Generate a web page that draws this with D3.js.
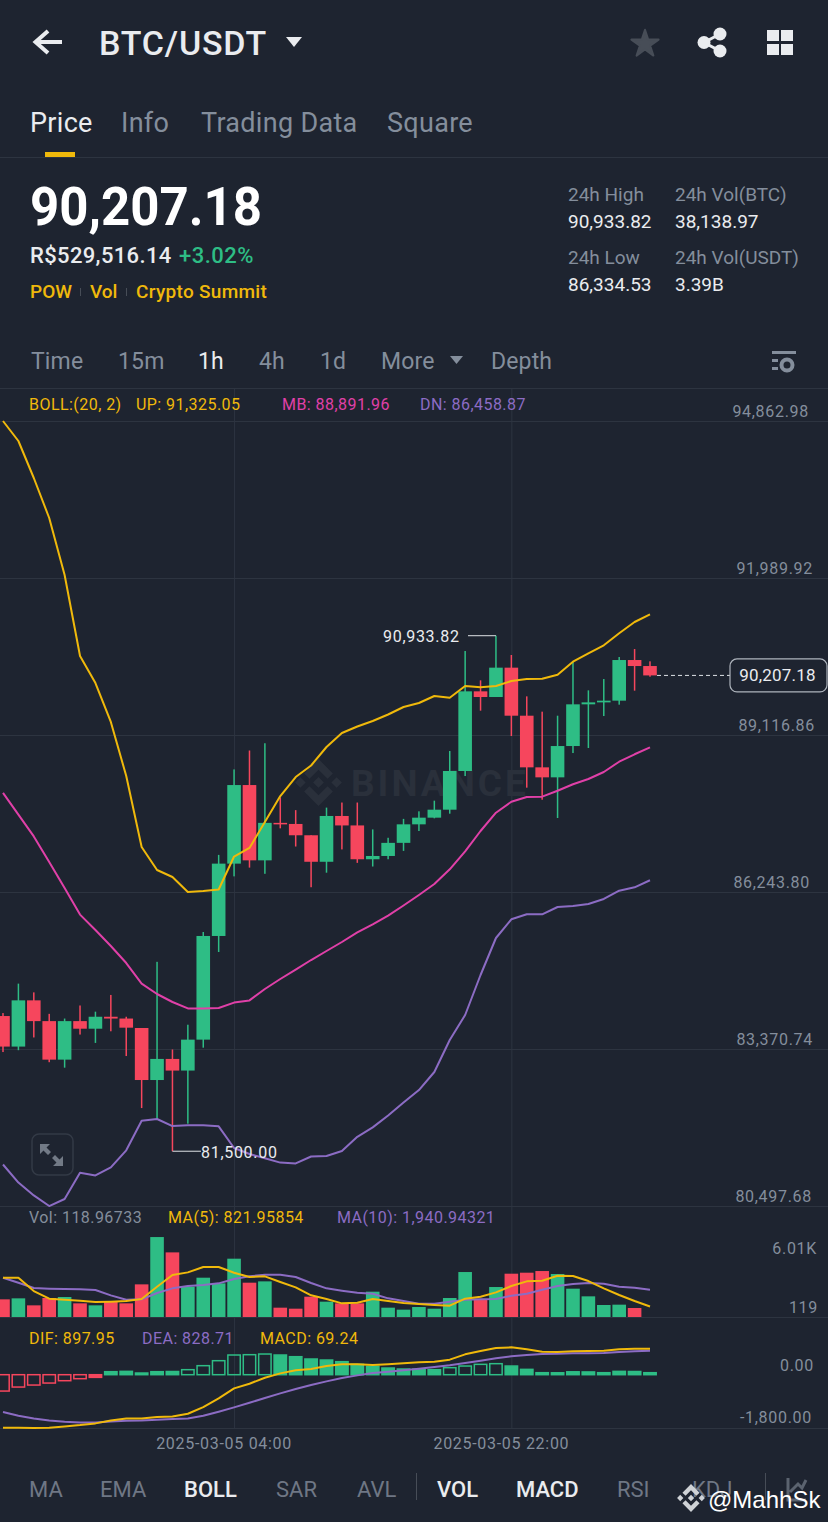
<!DOCTYPE html>
<html>
<head>
<meta charset="utf-8">
<script src="https://cdn.jsdelivr.net/npm/d3@7"></script>
<style>
  html, body { margin: 0; padding: 0; background: #1e2430; }
  svg { display: block; font-family: Roboto, sans-serif; }
  .domain { display: none; }
</style>
</head>
<body>
<svg id="chart" width="828" height="1522"></svg>
<script>
// candles, one per hour
const opens = [83974,83415,84261,83881,83176,83881,83742,83961,83928,83755,82803,83189,82976,83542,85439,86763,88201,86823,87509,87489,87282,86797,87635,87462,86843,86903,87143,87482,87604,87750,88458,89916,89812,90349,89470,88525,88342,88915,89678,89714,89745,90489,90379]
const highs = [84028,84567,84407,84014,83928,84167,84054,84360,83961,83755,84966,83362,83815,85512,86923,88487,88833,88966,87975,87742,87282,87788,87881,87881,87389,87236,87582,87720,87915,88824,90654,90117,90933.82,90581,89824,89544,89470,90465,89934,90141,90544,90690,90465]
const lows = [83315,83349,83582,83129,83029,83635,83482,83695,83242,82290,82077,81500,82004,83395,85146,86530,86690,86577,87409,87076,86331,86597,87023,86777,86710,86843,86996,87360,87592,87677,88366,89562,89812,89098,88153,87933,87598,88787,88879,89464,89672,89928,90184]
const closes = [83415,84261,83881,83176,83881,83742,83961,83928,83761,82803,83189,82976,83542,85439,86763,88201,86823,87509,87489,87282,86797,87635,87462,86843,86903,87143,87482,87604,87750,88458,89916,89812,90349,89470,88525,88342,88915,89678,89714,89745,90489,90379,90207.18]

// bollinger bands
const bollUp = [94863,94497,93820,93088,92045,90562,90068,89355,88367,87067,86646,86518,86244,86262,86289,86893,87049,87525,88000,88348,88559,88897,89153,89272,89373,89492,89629,89702,89831,89799,90014,89990,90014,90105,90142,90147,90220,90458,90612,90758,90978,91185,91325.05]
const bollMb = [88059,87660,87261,86793,86317,85830,85548,85255,84944,84566,84377,84231,84114,84114,84121,84220,84260,84469,84652,84825,84999,85164,85329,85504,85651,85810,85997,86189,86390,86659,86989,87360,87695,87896,87982,87988,88097,88215,88312,88440,88628,88764,88891.96]
const bollDn = [81257,80926,80691,80497,80626,81105,81057,81204,81517,82057,82090,81961,81976,81976,81956,81559,81449,81370,81292,81277,81403,81412,81504,81764,81936,82155,82390,82620,82950,83535,83993,84725,85402,85744,85836,85836,85969,85987,86024,86116,86267,86330,86458.87]

// volume pane
const volume = [1301,1368,899,1390,1457,1033,899,1122,1033,2304,5471,4445,2148,2750,2371,4022,2416,2505,743,676,1479,1145,1033,1033,1814,743,610,788,676,1390,3129,1256,2126,3018,3085,3196,2996,2015,1502,922,944,721,118.97]
const volMa5 = [2750,2750,1858,1346,1279,1212,1122,1145,1189,1323,2148,2929,3107,3464,3464,3085,2795,2840,2461,2104,1569,1323,1033,1078,1323,1189,1056,989,922,877,1346,1479,1769,2193,2505,2550,2884,2862,2527,2037,1591,1189,821.96]
const volMa10 = [2750,2416,2059,2015,1992,1970,1925,1569,1279,1301,1725,2037,2193,2260,2371,2661,2840,2951,2951,2795,2394,2037,1881,1747,1680,1368,1189,1011,1011,1145,1279,1301,1323,1546,1680,1948,2193,2327,2394,2349,2148,2081,1940.94]

// macd pane
const macdHist = [-564,-426,-357,-288,-207,-138,-92,104,115,58,104,110,173,311,483,679,690,713,679,621,541,506,449,357,288,230,196,190,173,242,299,357,380,299,184,69,66,100,95,69,115,110,69.24]
const dif = [-1829,-1829,-1840,-1829,-1783,-1737,-1679,-1576,-1507,-1507,-1461,-1438,-1346,-1116,-817,-472,-311,-104,46,150,196,299,357,357,334,357,391,426,449,518,702,817,920,943,874,794,782,805,817,828,874,897,897.95]
const dea = [-1288,-1415,-1507,-1576,-1622,-1645,-1645,-1610,-1587,-1576,-1553,-1530,-1507,-1415,-1277,-1127,-966,-805,-644,-495,-357,-230,-115,-23,58,104,150,207,265,322,403,483,564,633,679,713,725,736,736,748,782,805,828.71]

const priceTicks = [94862.98,91989.92,89116.86,86243.80,83370.74,80497.68]
const macdTicks = [0,-1800]
const timeTicks = [15,33]
const timeLabels = ['2025-03-05 04:00','2025-03-05 22:00']
const lastPrice = 90207.18

const W = 828
const BG = '#1e2430', GRID = '#2d3440', GREY = '#848e9c', DIM = '#6f7785', WHITE = '#eaecef'
const GREEN = '#2ebd85', RED = '#f6465d', YELLOW = '#f0b90b', PINK = '#e040a8', PURPLE = '#8c6cc4'
const fmt = d => d3.format(',.2f')(d).replace('\u2212', '-')
const TICK_SPACING = .7, LEGEND_SPACING = .45
// the tick labels are not flush in the app, their right edges differ a little
const priceLabelRight = [809,813,815,810,813,812]
const macdLabelRight = [814,812]

const svg = d3.select('#chart')
svg.append('rect').attr('width', W).attr('height', 1522).attr('fill', BG)

const txt = (x, y, s, fill, size, opts = {}) => svg.append('text')
  .attr('x', x).attr('y', y).attr('fill', fill).attr('font-size', size)
  .attr('font-weight', opts.weight || 400).attr('text-anchor', opts.anchor || 'start')
  .attr('font-family', opts.family || null)
  .attr('letter-spacing', opts.ls !== undefined ? opts.ls : (size === 16 ? LEGEND_SPACING : null)).text(s)

// exchange logo, drawn around its own centre
const logoPaths = [
  'M38.73 53.2l24.59-24.58 24.6 24.6 14.3-14.31L63.32 0 24.43 38.89z',
  'M0 63.31l14.3-14.31 14.31 14.31-14.31 14.3z',
  'M38.73 73.41l24.59 24.59 24.6-24.6 14.31 14.29-38.9 38.91-38.91-38.88-.02-.02z',
  'M98.01 63.31l14.3-14.31 14.31 14.31-14.31 14.3z',
  'M77.83 63.3L63.32 48.78 52.59 59.51l-1.24 1.23-2.54 2.54 14.51 14.5 14.51-14.47z'
]
const logoMark = (cx, cy, k, fill) => svg.append('path').attr('d', logoPaths.join('')).attr('fill', fill)
  .attr('transform', `translate(${cx},${cy}) scale(${k}) translate(-63.31,-63.31)`)

const x = d3.scaleLinear().domain([0, 42]).range([3, 650])
const yPrice = d3.scaleLinear().domain([94862.98, 80497.68]).range([421, 1206])
const yVol = d3.scaleLinear().domain([119, 6010]).range([1317, 1229])
const yMacd = d3.scaleLinear().domain([0, -1800]).range([1374.7, 1426.9])
const idx = d3.range(opens.length)

// header
svg.append('path').attr('d', 'M62 42H36M48 31L35.5 42L48 53').attr('fill', 'none')
  .attr('stroke', WHITE).attr('stroke-width', 4)
txt(99, 55, 'BTC/USDT', WHITE, 34, { weight: 500, ls: .8 })
svg.append('path').attr('d', 'M286 37H302L294 47Z').attr('fill', WHITE)
svg.append('path').attr('fill', '#474d57').attr('stroke', '#474d57').attr('stroke-width', 2).attr('stroke-linejoin', 'round')
  .attr('d', d3.symbol(d3.symbolStar, 230)()).attr('transform', 'translate(645,44)')
const share = svg.append('g').attr('fill', WHITE)
share.append('path').attr('d', 'M720 34L704 42.5L720 51').attr('fill', 'none').attr('stroke', WHITE).attr('stroke-width', 3)
;[[720,34,6.5],[704,42.5,6.5],[720,51,6.5]].forEach(c => share.append('circle').attr('cx', c[0]).attr('cy', c[1]).attr('r', c[2]))
;[[767,30],[781,30],[767,44],[781,44]].forEach(c => svg.append('rect').attr('x', c[0]).attr('y', c[1]).attr('width', 12).attr('height', 11).attr('fill', WHITE))

const tabNames = ['Price','Info','Trading Data','Square']
const tabX = [30,121,201,387]
tabNames.forEach((t, i) => txt(tabX[i], 132, t, i ? GREY : WHITE, 27, { ls: .3 }))
svg.append('rect').attr('x', 45).attr('y', 152).attr('width', 30).attr('height', 5).attr('fill', YELLOW)
svg.append('rect').attr('x', 0).attr('y', 157).attr('width', W).attr('height', 1).attr('fill', GRID)

txt(30, 225, '90,207.18', '#fff', 54, { weight: 700 }).attr('textLength', 232).attr('lengthAdjust', 'spacingAndGlyphs')
txt(30, 263, 'R$529,516.14', WHITE, 22, { ls: .35, weight: 500 })
txt(179, 263, '+3.02%', GREEN, 22, { ls: .5, weight: 500 })
txt(30, 298, 'POW', YELLOW, 19, { weight: 500 })
txt(90, 298, 'Vol', YELLOW, 19, { weight: 500 })
txt(136, 298, 'Crypto Summit', YELLOW, 19, { weight: 500, ls: .3 })
svg.append('rect').attr('x', 80).attr('y', 288).attr('width', 1).attr('height', 8).attr('fill', '#474d57')
svg.append('rect').attr('x', 126).attr('y', 288).attr('width', 1).attr('height', 8).attr('fill', '#474d57')

txt(568, 201, '24h High', GREY, 19)
txt(568, 228, '90,933.82', WHITE, 19)
txt(568, 264, '24h Low', GREY, 19)
txt(568, 291, '86,334.53', WHITE, 19)
txt(675, 201, '24h Vol(BTC)', GREY, 19)
txt(675, 228, '38,138.97', WHITE, 19)
txt(675, 264, '24h Vol(USDT)', GREY, 19)
txt(675, 291, '3.39B', WHITE, 19)

const periods = ['Time','15m','1h','4h','1d','More','Depth']
const periodX = [31,118,198,259,320,381,491]
periods.forEach((t, i) => txt(periodX[i], 369, t, t === '1h' ? WHITE : GREY, 23, { ls: .15 }))
svg.append('path').attr('d', 'M450 356H463L456.5 364Z').attr('fill', GREY)
svg.append('path').attr('fill', GREY)
  .attr('d', 'M772 351H796V354H772ZM772 359H778V362H772ZM772 367H778V370H772Z')
svg.append('circle').attr('cx', 787).attr('cy', 365).attr('r', 5.5).attr('fill', 'none').attr('stroke', GREY).attr('stroke-width', 4)

// price pane
const xGrid = svg.append('g').attr('transform', 'translate(0,388)')
  .call(d3.axisBottom(x).tickValues(timeTicks).tickSize(1040).tickFormat((d, i) => timeLabels[i]))
xGrid.selectAll('line').attr('stroke', GRID)
xGrid.selectAll('text').attr('fill', GREY).attr('font-size', 16).attr('font-family', 'Roboto')
  .attr('letter-spacing', TICK_SPACING).attr('y', 1061).attr('dy', 0).attr('dx', -10.5)

svg.append('rect').attr('x', 0).attr('y', 388).attr('width', W).attr('height', 1).attr('fill', GRID)
svg.append('rect').attr('x', 0).attr('y', 1317).attr('width', W).attr('height', 1).attr('fill', GRID)
svg.append('rect').attr('x', 0).attr('y', 1428).attr('width', W).attr('height', 1).attr('fill', GRID)

const priceAxis = svg.append('g')
  .call(d3.axisRight(yPrice).tickValues(priceTicks).tickSize(W).tickFormat(fmt))
priceAxis.selectAll('line').attr('stroke', GRID)
priceAxis.selectAll('text').attr('x', (d, i) => priceLabelRight[i]).attr('dy', -5).attr('text-anchor', 'end')
  .attr('letter-spacing', TICK_SPACING).attr('fill', GREY).attr('font-size', 16).attr('font-family', 'Roboto')

// watermark
logoMark(318.5, 782.5, .37, '#2a303b')
svg.append('text').attr('x', 351).attr('y', 796).attr('fill', '#2a303b').attr('font-size', 37).attr('font-weight', 700).attr('letter-spacing', 3).text('BINANCE')

const up = i => closes[i] >= opens[i]
const candles = svg.append('g').selectAll('g').data(idx).join('g')
  .attr('fill', i => up(i) ? GREEN : RED)
candles.append('rect').attr('x', i => x(i) - .75).attr('width', 1.5)
  .attr('y', i => yPrice(highs[i])).attr('height', i => yPrice(lows[i]) - yPrice(highs[i]))
candles.append('rect').attr('x', i => x(i) - 6.8).attr('width', 13.6)
  .attr('y', i => yPrice(Math.max(opens[i], closes[i])))
  .attr('height', i => Math.max(1.5, Math.abs(yPrice(opens[i]) - yPrice(closes[i]))))

const drawLine = (values, scale, color, width) => svg.append('path').datum(values)
  .attr('fill', 'none').attr('stroke', color).attr('stroke-width', width || 2).attr('stroke-linejoin', 'round')
  .attr('d', d3.line().x((d, i) => x(i)).y(d => scale(d)))

drawLine(bollUp, yPrice, YELLOW)
drawLine(bollMb, yPrice, PINK)
drawLine(bollDn, yPrice, PURPLE)

// high, low and last price markers
const maxI = highs.indexOf(d3.max(highs)), minI = lows.indexOf(d3.min(lows))
svg.append('path').attr('fill', 'none').attr('stroke', '#dfe2e6').attr('stroke-width', 1)
  .attr('d', `M${x(maxI)} ${yPrice(highs[maxI])}H468M${x(minI)} ${yPrice(lows[minI])}H201`)
txt(383, 642, fmt(highs[maxI]), WHITE, 16, { ls: TICK_SPACING })
txt(201, 1158, fmt(lows[minI]), WHITE, 16, { ls: TICK_SPACING })
svg.append('line').attr('x1', x(42) + 7).attr('x2', 730).attr('y1', yPrice(lastPrice)).attr('y2', yPrice(lastPrice))
  .attr('stroke', '#dfe2e6').attr('stroke-dasharray', '4 3')
svg.append('rect').attr('x', 730).attr('y', yPrice(lastPrice) - 16.5).attr('width', 97).attr('height', 33).attr('rx', 7)
  .attr('fill', BG).attr('stroke', '#aeb4bc').attr('stroke-width', 1.2)
txt(777.5, yPrice(lastPrice) + 6, fmt(lastPrice), WHITE, 17, { anchor: 'middle', ls: .2 })

// expand button
svg.append('rect').attr('x', 32).attr('y', 1134).attr('width', 41).attr('height', 41).attr('rx', 7)
  .attr('fill', 'none').attr('stroke', '#333a46').attr('stroke-width', 1.5)
svg.append('path').attr('fill', '#727a86')
  .attr('d', 'M40 1144H50L46.5 1147.5L51 1152L48 1155L43.5 1150.5L40 1154ZM63 1166H53L56.5 1162.5L52 1158L55 1155L59.5 1159.5L63 1156Z')

// legends
txt(29, 410, 'BOLL:(20, 2)', YELLOW, 16)
txt(136, 410, 'UP: 91,325.05', YELLOW, 16)
txt(282, 410, 'MB: 88,891.96', PINK, 16)
txt(420, 410, 'DN: 86,458.87', PURPLE, 16)
txt(29, 1223, 'Vol: 118.96733', GREY, 16)
txt(168, 1223, 'MA(5): 821.95854', YELLOW, 16)
txt(337, 1223, 'MA(10): 1,940.94321', PURPLE, 16)
txt(29, 1344, 'DIF: 897.95', YELLOW, 16)
txt(142, 1344, 'DEA: 828.71', PURPLE, 16)
txt(260, 1344, 'MACD: 69.24', YELLOW, 16)

// volume pane
svg.append('g').selectAll('rect').data(idx).join('rect')
  .attr('x', i => x(i) - 6.8).attr('width', 13.6)
  .attr('y', i => yVol(volume[i])).attr('height', i => yVol(119) - yVol(volume[i]))
  .attr('fill', i => up(i) ? GREEN : RED)
drawLine(volMa10, yVol, PURPLE)
drawLine(volMa5, yVol, YELLOW)
txt(817, 1254, '6.01K', GREY, 16, { anchor: 'end', ls: TICK_SPACING })
txt(818, 1313, '119', GREY, 16, { anchor: 'end', ls: TICK_SPACING })

// macd pane, hollow while the bar is rising, too thin bars just read as solid
const barH = i => Math.abs(yMacd(macdHist[i]) - yMacd(0))
const hollow = i => (i === 0 || macdHist[i] > macdHist[i - 1]) && barH(i) > 3.6
svg.append('g').selectAll('rect').data(idx).join('rect')
  .attr('x', i => x(i) - 6.2).attr('width', 12.4)
  .attr('y', i => Math.min(yMacd(0), yMacd(macdHist[i])))
  .attr('height', barH)
  .attr('fill', i => hollow(i) ? 'none' : (macdHist[i] > 0 ? GREEN : RED))
  .attr('stroke', i => macdHist[i] > 0 ? GREEN : RED).attr('stroke-width', 1.5)
drawLine(dea, yMacd, PURPLE)
drawLine(dif, yMacd, YELLOW)

const macdAxis = svg.append('g').attr('transform', `translate(${W},0)`)
  .call(d3.axisLeft(yMacd).tickValues(macdTicks).tickSize(0).tickFormat(fmt))
macdAxis.selectAll('text').attr('x', (d, i) => macdLabelRight[i] - W).attr('dy', -4).attr('fill', GREY)
  .attr('letter-spacing', TICK_SPACING).attr('font-size', 16).attr('font-family', 'Roboto')

// bottom bar
const bottomNames = ['MA','EMA','BOLL','SAR','AVL','VOL','MACD','RSI','KDJ']
const bottomX = [29,100,184,276,357,437,516,617,692]
const bottomOn = ['BOLL','VOL','MACD']
bottomNames.forEach((t, i) => {
  const on = bottomOn.includes(t)
  txt(bottomX[i], 1497, t, on ? WHITE : DIM, 22, { weight: on ? 500 : 400 })
})
svg.append('rect').attr('x', 416).attr('y', 1473).attr('width', 1).attr('height', 27).attr('fill', '#474d57')
svg.append('rect').attr('x', 765).attr('y', 1473).attr('width', 1).attr('height', 27).attr('fill', '#474d57')
svg.append('path').attr('fill', 'none').attr('stroke', '#5b636f').attr('stroke-width', 3)
  .attr('d', 'M788 1478V1500H806M790 1492L798 1484L802 1488L806 1480')

// repost credit over the bottom bar
logoMark(691, 1498, .22, '#cfd2d6')
txt(708, 1508, '@MahhSk', '#fff', 24, { family: 'Liberation Sans' })
</script>
</body>
</html>
